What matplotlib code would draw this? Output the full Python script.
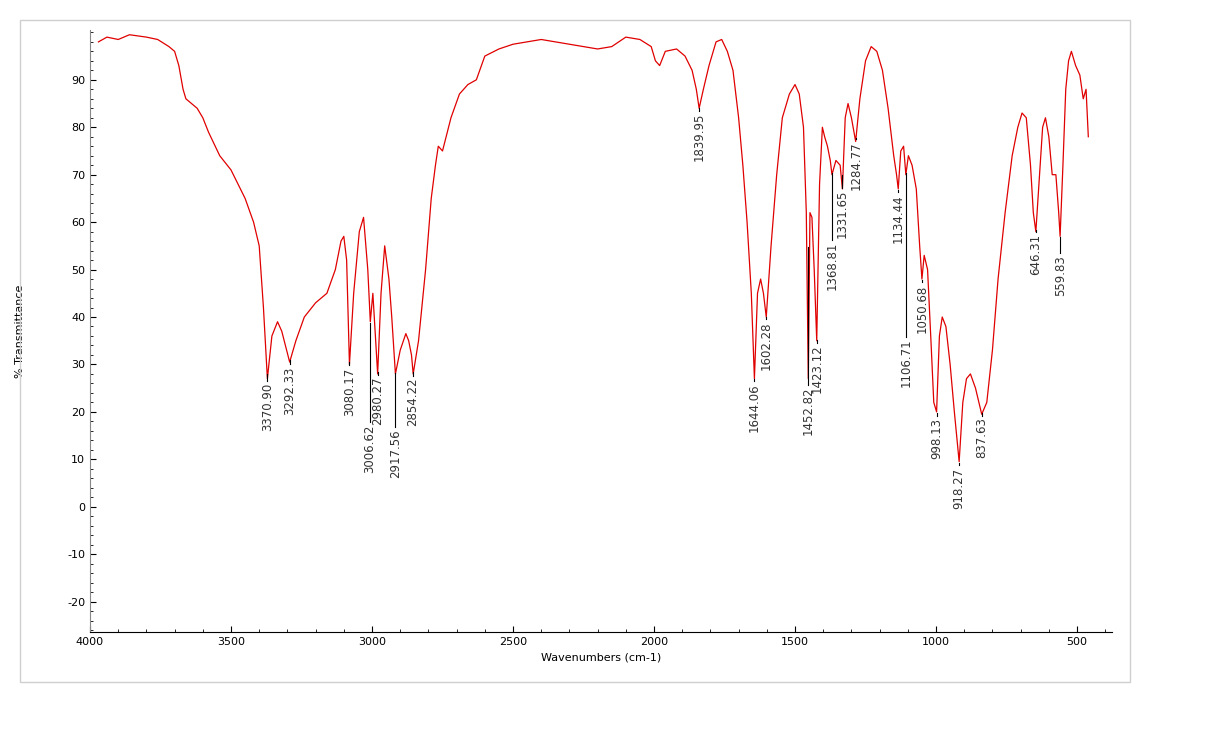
import matplotlib
matplotlib.use("Agg")
import matplotlib.pyplot as plt
from matplotlib.patches import Rectangle
from matplotlib.ticker import MultipleLocator, FixedLocator

plt.rcParams["axes.unicode_minus"] = False

# spectrum (wavenumber cm-1, %T)
wavenumber = [3970, 3940, 3900, 3860, 3800, 3760, 3720, 3700, 3685, 3670, 3660, 3640, 3620, 3600,
              3580, 3540, 3500, 3450, 3420, 3400, 3385, 3371, 3355, 3335, 3320, 3292, 3270, 3240,
              3200, 3160, 3130, 3110, 3100, 3090, 3080, 3065, 3045, 3030, 3015, 3006, 2997, 2990,
              2980, 2968, 2955, 2940, 2930, 2917, 2900, 2880, 2870, 2860, 2854, 2835, 2810, 2790,
              2775, 2765, 2750, 2720, 2690, 2660, 2630, 2600, 2550, 2500, 2450, 2400, 2350, 2300,
              2250, 2200, 2150, 2100, 2050, 2010, 1995, 1980, 1960, 1920, 1890, 1865, 1850, 1840,
              1825, 1805, 1780, 1760, 1740, 1720, 1700, 1685, 1670, 1655, 1644, 1633, 1622, 1612,
              1602, 1585, 1565, 1545, 1520, 1500, 1485, 1470, 1460, 1453, 1447, 1440, 1432, 1423,
              1413, 1403, 1395, 1385, 1375, 1369, 1355, 1340, 1332, 1322, 1312, 1300, 1285, 1270,
              1250, 1230, 1210, 1190, 1170, 1150, 1140, 1134, 1125, 1115, 1107, 1098, 1085, 1070,
              1058, 1050, 1042, 1030, 1018, 1008, 998, 988, 978, 965, 950, 935, 918, 905, 892,
              878, 860, 838, 820, 800, 780, 755, 730, 710, 695, 680, 665, 655, 646, 635, 622,
              612, 600, 588, 575, 565, 560, 550, 540, 530, 520, 505, 490, 478, 468, 460]
transmittance = [98, 99, 98.5, 99.5, 99, 98.5, 97, 96, 93, 88, 86, 85, 84, 82,
                 79, 74, 71, 65, 60, 55, 42, 27, 36, 39, 37, 30.5, 35, 40,
                 43, 45, 50, 56, 57, 52, 30, 45, 58, 61, 50, 39, 45, 38,
                 28, 45, 55, 48, 40, 28, 33, 36.5, 35, 32, 28, 35, 50, 65,
                 72, 76, 75, 82, 87, 89, 90, 95, 96.5, 97.5, 98, 98.5, 98, 97.5,
                 97, 96.5, 97, 99, 98.5, 97, 94, 93, 96, 96.5, 95, 92, 88, 84,
                 88, 93, 98, 98.5, 96, 92, 82, 72, 60, 45, 27, 45, 48, 45,
                 40, 55, 70, 82, 87, 89, 87, 80, 62, 27, 62, 61, 50, 35,
                 68, 80, 78, 76, 73, 70, 73, 72, 67, 82, 85, 82, 77, 86,
                 94, 97, 96, 92, 84, 74, 70, 67, 75, 76, 70, 74, 72, 67,
                 55, 48, 53, 50, 35, 22, 20, 36, 40, 38, 30, 20, 9.5, 22, 27,
                 28, 25, 19.5, 22, 33, 48, 62, 74, 80, 83, 82, 72, 62, 58, 68, 80,
                 82, 78, 70, 70, 62, 57, 72, 88, 94, 96, 93, 91, 86, 88, 78]

# peak labels: position, start of the label line (%T), end of the line (%T)
peak_wn = [3370.90, 3292.33, 3080.17, 3006.62, 2980.27, 2917.56, 2854.22, 1839.95,
           1644.06, 1602.28, 1452.82, 1423.12, 1368.81, 1331.65, 1284.77, 1134.44,
           1106.71, 1050.68, 998.13, 918.27, 837.63, 646.31, 559.83]
peak_top = [28, 31, 30.5, 38.7, 28.4, 28.2, 28.4, 84, 27, 40, 54.8, 35.1, 70.4, 70,
            77.8, 66.8, 70.4, 47.8, 19.7, 9.2, 19.7, 58.4, 56.9]
peak_end = [26.5, 30, 29.8, 17.8, 27.8, 16.8, 27.6, 83.5, 26.5, 39.5, 25.7, 34.6, 56.2, 67.2,
            77.5, 66.3, 35.8, 47.3, 19.2, 8.7, 19.2, 57.9, 53.5]
y_ticks = [-20, -10, 0, 10, 20, 30, 40, 50, 60, 70, 80, 90]

fig = plt.figure(figsize=(12.16, 7.48), dpi=100)
fig.patches.append(Rectangle((20 / 1216, 1 - 682 / 748), 1110 / 1216, 662 / 748,
                             transform=fig.transFigure, fill=False, edgecolor="#cfcfcf", lw=1))
ax = fig.add_axes([90 / 1216, 1 - 632 / 748, 1022 / 1216, 602 / 748])

ax.plot(wavenumber, transmittance, color="#e00000", lw=0.9)
for wn, top, end in zip(peak_wn, peak_top, peak_end):
    ax.plot([wn, wn], [top, end], color="black", lw=0.8)
    ax.text(wn, end - 0.4, f"{wn:.2f}", rotation=90, ha="center", va="top",
            fontsize=8.5, color="#333333")

ax.set_xlim(4000, 376)
ax.set_ylim(-26.4, 100.5)
ax.xaxis.set_major_locator(MultipleLocator(500))
ax.xaxis.set_minor_locator(MultipleLocator(100))
ax.yaxis.set_major_locator(FixedLocator(y_ticks))
ax.yaxis.set_minor_locator(MultipleLocator(2))
ax.tick_params(labelsize=8, direction="in", length=4)
ax.tick_params(which="minor", direction="in", length=2)
ax.set_xlabel("Wavenumbers (cm-1)", fontsize=8)
ax.set_ylabel("% Transmittance", fontsize=8, labelpad=30)
for side in ("top", "right"):
    ax.spines[side].set_visible(False)
ax.spines["left"].set_color("#888888")

fig.savefig("out.png", dpi=100)
